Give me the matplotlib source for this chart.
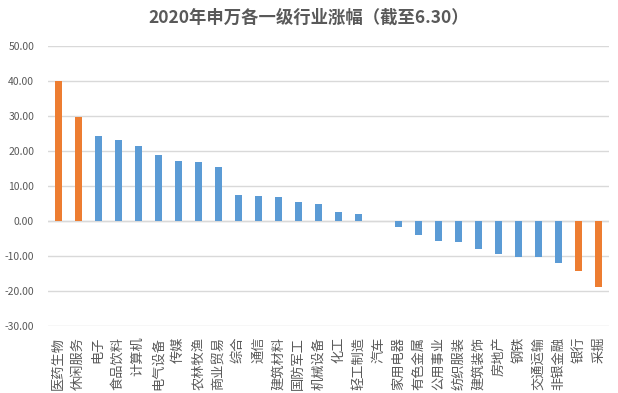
import matplotlib
matplotlib.use("Agg")
import matplotlib.pyplot as plt

plt.rcParams['font.family'] = ['Noto Sans CJK SC', 'DejaVu Sans']

categories = ["医药生物", "休闲服务", "电子", "食品饮料", "计算机", "电气设备", "传媒", "农林牧渔",
              "商业贸易", "综合", "通信", "建筑材料", "国防军工", "机械设备", "化工", "轻工制造",
              "汽车", "家用电器", "有色金属", "公用事业", "纺织服装", "建筑装饰", "房地产", "钢铁",
              "交通运输", "非银金融", "银行", "采掘"]
values = [40.0, 29.8, 24.4, 23.2, 21.5, 18.9, 17.2, 16.9,
          15.5, 7.5, 7.2, 6.9, 5.5, 4.9, 2.7, 2.1,
          0.1, -1.6, -3.9, -5.6, -5.9, -7.9, -9.3, -10.2,
          -10.2, -11.9, -14.2, -18.8]
highlight = ["医药生物", "休闲服务", "银行", "采掘"]
yticks = [-30, -20, -10, 0, 10, 20, 30, 40, 50]

BLUE = "#5B9BD5"
ORANGE = "#ED7D31"
GRAY = "#595959"

fig = plt.figure(figsize=(6.18, 3.93), dpi=100)
ax = fig.add_axes([48/618, 1-326/393, (609-48)/618, (326-46)/393])

x = list(range(len(categories)))
colors = [ORANGE if c in highlight else BLUE for c in categories]
ax.bar(x, values, width=0.35, color=colors, zorder=3)

ax.set_ylim(-30, 50)
ax.set_xlim(-0.5, len(categories) - 0.5)
ax.set_yticks(yticks)
ax.set_yticklabels([f"{v:.2f}" for v in yticks], fontsize=7.5, color=GRAY)
ax.yaxis.grid(True, color="#D9D9D9", linewidth=1, zorder=0)
ax.axhline(0, color="#D9D9D9", linewidth=1, zorder=1)
ax.tick_params(axis='y', length=0, pad=10)
ax.tick_params(axis='x', length=0)
ax.set_xticks([])
for s in ax.spines.values():
    s.set_visible(False)

for xi, c in zip(x, categories):
    ax.text(xi, -33.0, c, rotation=90, ha='center', va='top', fontsize=9.5,
            color=GRAY, transform=ax.transData, clip_on=False)

fig.text(0.5, 1-18/393, "2020年申万各一级行业涨幅（截至6.30）", ha='center', va='center',
         fontsize=12.5, fontweight='bold', color=GRAY)

fig.savefig("out.png", dpi=100)
